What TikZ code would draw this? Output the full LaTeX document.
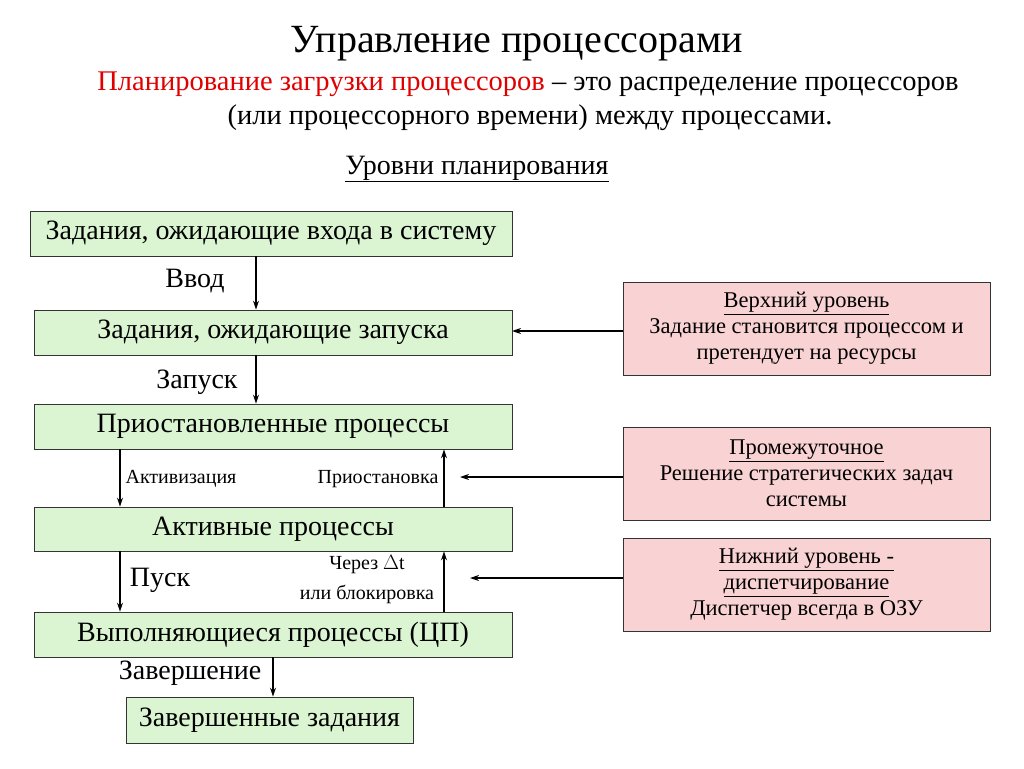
\documentclass[tikz,border=0pt]{standalone}
\usepackage{fontspec}
\setmainfont{Liberation Serif}
\usetikzlibrary{arrows.meta}
\definecolor{gbox}{HTML}{DBF5D3}
\definecolor{pbox}{HTML}{F9D3D3}
\definecolor{ttl}{HTML}{E00000}
\begin{document}
\begin{tikzpicture}[x=1pt,y=-1pt,
 gb/.style={draw=black!80,fill=gbox,line width=0.8pt,inner sep=0pt,font=\fontsize{28}{32}\selectfont},
 pb/.style={draw=black!80,fill=pbox,line width=0.8pt,inner sep=0pt,align=center,font=\fontsize{22.5}{27}\selectfont},
 lab/.style={font=\fontsize{28}{32}\selectfont},
 sl/.style={font=\fontsize{20}{30}\selectfont,align=center},
 ar/.style={-{Stealth[length=9pt,width=6pt]},line width=1.5pt}]
\useasboundingbox (0,0) rectangle (1024,768);
\node (t) at (517,44) {\fontsize{40}{44}\selectfont Управление процессорами};
\node (s1) at (528,84) {\fontsize{28.5}{34}\selectfont\textcolor{ttl}{Планирование загрузки процессоров} – это распределение процессоров};
\node (s2) at (530,118) {\fontsize{28.5}{34}\selectfont (или процессорного времени) между процессами.};
\node (lv) at (477,169) {\fontsize{28}{32}\selectfont\underline{Уровни планирования}};
\node[gb,minimum width=482,minimum height=45] (b1) at (271,233.5) {\raisebox{-7pt}{Задания, ожидающие входа в систему}};
\node[gb,minimum width=478,minimum height=45] (b2) at (273,332.5) {\raisebox{-7pt}{Задания, ожидающие запуска}};
\node[gb,minimum width=478,minimum height=45] (b3) at (273,426.5) {\raisebox{-7pt}{Приостановленные процессы}};
\node[gb,minimum width=478,minimum height=44] (b4) at (273,529) {\raisebox{-7pt}{Активные процессы}};
\node[gb,minimum width=478,minimum height=45] (b5) at (273,634.5) {\raisebox{-7pt}{Выполняющиеся процессы (ЦП)}};
\node[gb,minimum width=287,minimum height=46] (b6) at (269.5,720) {\raisebox{-7pt}{Завершенные задания}};
\node[pb,minimum width=367,minimum height=93] (r1) at (806.5,328.5) {\underline{Верхний уровень}\\[-1pt]Задание становится процессом и\\[-1pt]претендует на ресурсы};
\node[pb,minimum width=367,minimum height=93] (r2) at (806.5,473.5) {\underline{Промежуточное}\\[-1pt]Решение стратегических задач\\[-1pt]системы};
\node[pb,minimum width=367,minimum height=93] (r3) at (806.5,584.5) {\underline{Нижний уровень -}\\[-1pt]\underline{диспетчирование}\\[-1pt]Диспетчер всегда в ОЗУ};
\draw[ar] (b1.south -| 256,0) -- (b2.north -| 256,0);
\node[lab] (l1) at (195,281) {Ввод};
\draw[ar] (b2.south -| 256,0) -- (b3.north -| 256,0);
\node[lab] (l2) at (197,382) {Запуск};
\draw[ar] (b3.south -| 120,0) -- (b4.north -| 120,0);
\node[sl] (l3) at (181,479) {Активизация};
\draw[ar] (b4.north -| 444,0) -- (b3.south -| 444,0);
\node[sl] (l4) at (378,479) {Приостановка};
\draw[ar] (b4.south -| 120,0) -- (b5.north -| 120,0);
\node[lab] (l5) at (160,580) {Пуск};
\draw[ar] (b5.north -| 444,0) -- (b4.south -| 444,0);
\node[sl] (l6) at (367,580) {Через $\Delta$t\\или блокировка};
\draw[ar] (b5.south -| 273,0) -- (b6.north -| 273,0);
\node[lab] (l7) at (190,673) {Завершение};
\coordinate (c1) at (512,331);
\coordinate (c2) at (460,477);
\coordinate (c3) at (470,578);
\draw[ar] (r1.west |- c1) -- (c1);
\draw[ar] (r2.west |- c2) -- (c2);
\draw[ar] (r3.west |- c3) -- (c3);
\end{tikzpicture}
\end{document}
